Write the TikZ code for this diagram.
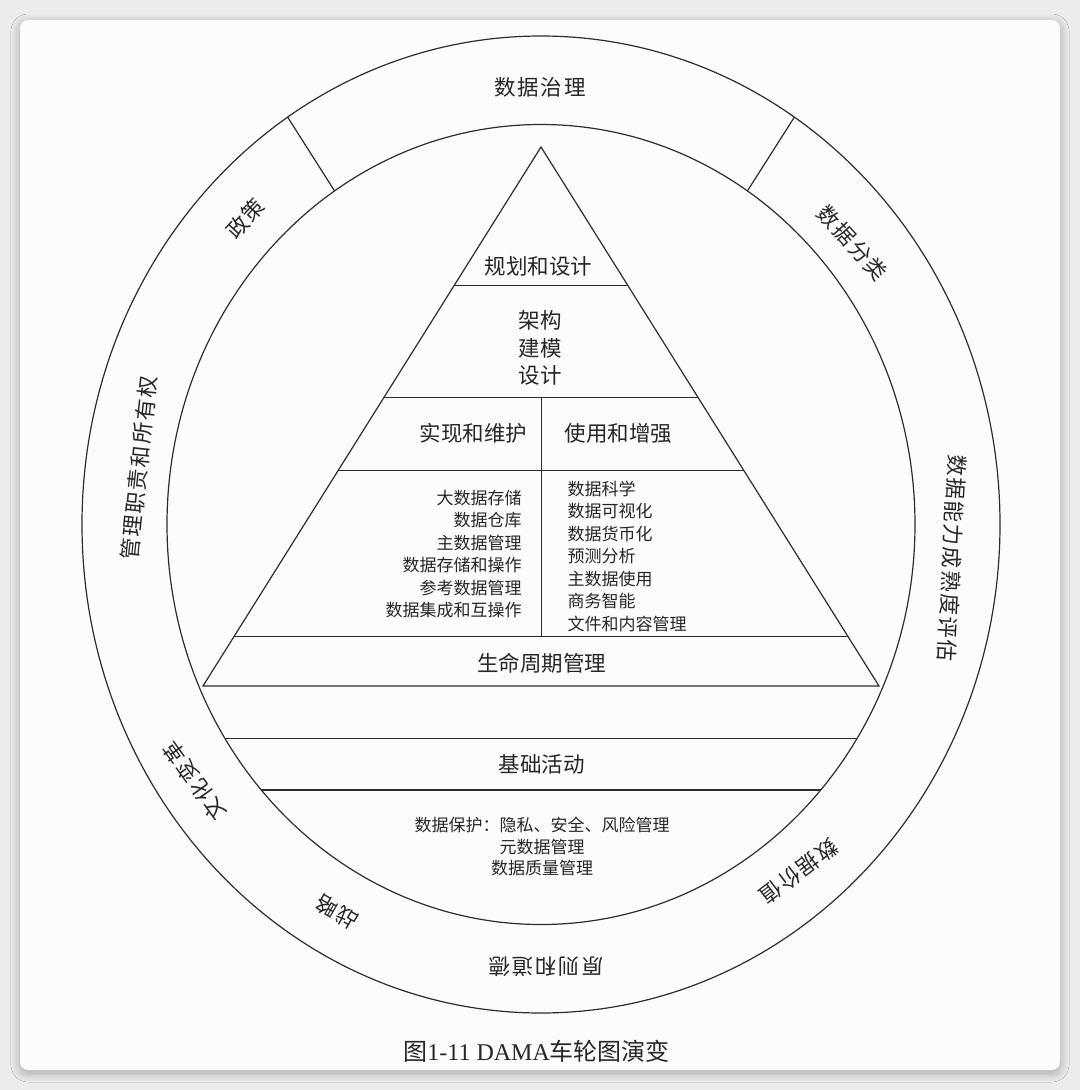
\documentclass[tikz,border=0pt]{standalone}
\usepackage{fontspec}
\usetikzlibrary{shadows.blur}
\setmainfont{Liberation Serif}
\newfontfamily\cjk{Noto Sans CJK SC}
\newfontfamily\cjkring[LetterSpace=8]{Noto Sans CJK SC}
\definecolor{bggray}{RGB}{236,236,236}
\definecolor{cardwhite}{RGB}{252,252,252}
\definecolor{ink}{RGB}{45,45,45}
\definecolor{inkgray}{RGB}{38,38,38}

\begin{document}
\begin{tikzpicture}[x=1pt,y=-1pt,
    ringtext/.style={font=\cjkring\fontsize{21.5}{24}\selectfont, text=inkgray, inner sep=0pt},
    midtext/.style={font=\cjk\fontsize{21.5}{27.5}\selectfont, text=inkgray, align=center, inner sep=0pt},
    listtext/.style={font=\cjk\fontsize{17}{22.5}\selectfont, text=inkgray, inner sep=0pt},
    wheel/.style={draw=ink, line width=1.2pt}]
\fill[bggray] (0,0) rectangle (1080,1090);
\useasboundingbox (0,0) rectangle (1080,1090);
\fill[cardwhite, rounded corners=8pt, blur shadow={shadow xshift=0pt, shadow yshift=-3pt, shadow blur radius=9pt, shadow blur steps=12, shadow opacity=30}] (20,20) rectangle (1060,1070);

% wheel
\coordinate (hub) at (541,524.5);
\draw[wheel] (hub) ellipse [x radius=459pt, y radius=488.5pt];
\draw[wheel] (hub) ellipse [x radius=374pt, y radius=400pt];
\draw[wheel] ({541+374*cos(123.5)},{524.5-400*sin(123.5)}) -- ({541+459*cos(123.5)},{524.5-488.5*sin(123.5)});
\draw[wheel] ({541+374*cos(56.5)},{524.5-400*sin(56.5)}) -- ({541+459*cos(56.5)},{524.5-488.5*sin(56.5)});

% pyramid
\coordinate (apex) at (541,147);
\coordinate (baseL) at (203,686);
\coordinate (baseR) at (879,686);
\draw[wheel, line join=miter] (apex) -- (baseL) -- (baseR) -- cycle;
\begin{scope}
\clip (apex) -- (baseL) -- (baseR) -- cycle;
\draw[wheel] (150,285.7) -- (930,285.7)
    (150,397.3) -- (930,397.3)
    (150,470.6) -- (930,470.6)
    (150,636.4) -- (930,636.4);
\end{scope}
\draw[wheel] (541.5,397.3) -- (541.5,636.4);
\begin{scope}
\clip (hub) ellipse [x radius=374pt, y radius=400pt];
\draw[wheel] (100,738.3) -- (1000,738.3)
    (100,790) -- (1000,790);
\end{scope}

% ring labels
\node[ringtext] (govern) at (540,87) {数据治理};
\node[ringtext, rotate=-47.6] (classify) at (852.5,243) {数据分类};
\node[ringtext, rotate=47] (policy) at (245.3,218.7) {政策};
\node[ringtext, rotate=84] (steward) at (139,468) {管理职责和所有权};
\node[ringtext, rotate=-93] (maturity) at (952,558) {数据能力成熟度评估};
\node[ringtext, rotate=125.7] (culture) at (194.5,781) {文化变革};
\node[ringtext, rotate=150] (strategy) at (337,912.5) {战略};
\node[ringtext, rotate=180] (ethics) at (546,967) {原则和道德};
\node[ringtext, rotate=-142.6] (value) at (799,871.5) {数据价值};

% pyramid labels
\node[midtext] (plan) at (538.5,266) {规划和设计};
\node[midtext] (arch) at (540,348) {架构\\建模\\设计};
\node[midtext] (build) at (473.5,433) {实现和维护};
\node[midtext] (use) at (618.5,433) {使用和增强};
\node[listtext, align=right, anchor=east] (storeList) at (521.7,554.2) {大数据存储\\数据仓库\\主数据管理\\数据存储和操作\\参考数据管理\\数据集成和互操作};
\node[listtext, align=left, anchor=west] (useList) at (567.3,556.2) {数据科学\\数据可视化\\数据货币化\\预测分析\\主数据使用\\商务智能\\文件和内容管理};
\node[midtext] (life) at (541.7,663.3) {生命周期管理};
\node[midtext] (found) at (541.7,764) {基础活动};
\node[listtext, align=center, font=\cjk\fontsize{17}{21.7}\selectfont] (protect) at (542,846.5) {数据保护：隐私、安全、风险管理\\元数据管理\\数据质量管理};

\node[font=\fontsize{24}{28}\selectfont, text=inkgray, inner sep=0pt] (caption) at (536.7,1051.7) {{\cjk 图}1-11 DAMA{\cjk 车轮图演变}};
\end{tikzpicture}
\end{document}
